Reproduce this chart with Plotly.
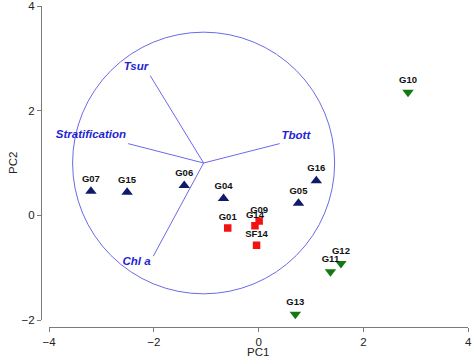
import plotly.graph_objects as go

# ---- data ----
tri_sites = ["G07", "G15", "G06", "G04", "G05", "G16"]
tri_pc1 = [-3.20, -2.51, -1.42, -0.67, 0.76, 1.10]
tri_pc2 = [0.46, 0.44, 0.57, 0.32, 0.23, 0.66]

sq_sites = ["G01", "G09", "G14", "SF14"]
sq_pc1 = [-0.59, 0.01, -0.07, -0.04]
sq_pc2 = [-0.24, -0.11, -0.20, -0.57]

inv_sites = ["G10", "G12", "G11", "G13"]
inv_pc1 = [2.85, 1.57, 1.37, 0.70]
inv_pc2 = [2.35, -0.92, -1.08, -1.89]

vec_names = ["Tsur", "Stratification", "Tbott", "Chl a"]
vec_origin = (-1.05, 1.0)
vec_end_x = [-2.07, -2.49, 0.40, -2.01]
vec_end_y = [2.67, 1.37, 1.37, -0.78]
vec_label_x = [-2.34, -3.20, 0.71, -2.33]
vec_label_y = [2.83, 1.53, 1.51, -0.89]
circle_radius = 2.5

x_ticks = [-4, -2, 0, 2, 4]
y_ticks = [-2, 0, 2, 4]

W, H = 474, 364
FONT = "Liberation Sans, Arial, sans-serif"
VEC_COLOR = "#6a6ae8"
LABEL_BLUE = "#1f1fd6"

fig = go.Figure()

# vectors
for ex, ey in zip(vec_end_x, vec_end_y):
    fig.add_trace(go.Scatter(x=[vec_origin[0], ex], y=[vec_origin[1], ey], mode="lines",
                             line=dict(color=VEC_COLOR, width=1), hoverinfo="skip", showlegend=False))

fig.add_trace(go.Scatter(x=vec_label_x, y=vec_label_y, mode="text",
                         text=[f"<b><i>{n}</i></b>" for n in vec_names],
                         textfont=dict(family=FONT, size=11.5, color=LABEL_BLUE),
                         hoverinfo="skip", showlegend=False))

lab_font = dict(family=FONT, size=9.5, color="#111111")

fig.add_trace(go.Scatter(x=tri_pc1, y=tri_pc2, mode="markers+text", text=[f"<b>{s}</b>" for s in tri_sites],
                         textposition="top center", textfont=lab_font,
                         marker=dict(symbol="triangle-up", size=10, color="#0f1a6b"), showlegend=False))
fig.add_trace(go.Scatter(x=sq_pc1, y=sq_pc2, mode="markers+text", text=[f"<b>{s}</b>" for s in sq_sites],
                         textposition="top center", textfont=lab_font,
                         marker=dict(symbol="square", size=7.5, color="#f21212"), showlegend=False))
fig.add_trace(go.Scatter(x=inv_pc1, y=inv_pc2, mode="markers+text", text=[f"<b>{s}</b>" for s in inv_sites],
                         textposition="top center", textfont=lab_font,
                         marker=dict(symbol="triangle-down", size=10, color="#137a13"), showlegend=False))

fig.add_shape(type="circle", xref="x", yref="y",
              x0=vec_origin[0] - circle_radius, x1=vec_origin[0] + circle_radius,
              y0=vec_origin[1] - circle_radius, y1=vec_origin[1] + circle_radius,
              line=dict(color=VEC_COLOR, width=1), layer="below")

axis_common = dict(showgrid=False, zeroline=False, showline=True, linecolor="#7a7a7a", linewidth=1,
                   ticks="outside", ticklen=4, tickcolor="#7a7a7a",
                   tickfont=dict(family=FONT, size=11.5, color="#222222"), automargin=False)

fig.update_layout(
    width=W, height=H, margin=dict(l=0, r=0, t=0, b=0),
    paper_bgcolor="white", plot_bgcolor="white",
    xaxis=dict(range=[-4, 4], tickvals=x_ticks, domain=[49 / W, 468.3 / W],
               anchor="free", position=1 - 327 / H, **axis_common),
    yaxis=dict(range=[-2, 4], tickvals=y_ticks, domain=[1 - 320 / H, 1 - 6 / H],
               anchor="free", position=41 / W, **axis_common),
    annotations=[
        dict(text="PC1", x=258 / W, y=1 - 352 / H, xref="paper", yref="paper", showarrow=False,
             font=dict(family=FONT, size=11.5, color="#222222"), xanchor="center", yanchor="middle"),
        dict(text="PC2", x=13 / W, y=1 - 163 / H, xref="paper", yref="paper", showarrow=False, textangle=-90,
             font=dict(family=FONT, size=11.5, color="#222222"), xanchor="center", yanchor="middle"),
    ],
    hovermode=False,
)

fig.write_html("out.html", config={"displayModeBar": False},
               post_script="document.body.style.margin='0';document.body.style.overflow='hidden';")
